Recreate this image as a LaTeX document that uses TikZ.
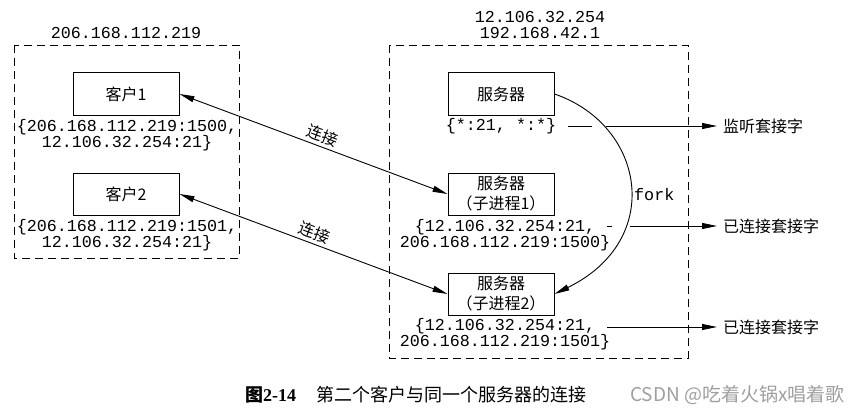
\documentclass[tikz,border=0pt]{standalone}
\usepackage{fontspec}
\setmainfont{Liberation Serif}
\setmonofont{Liberation Mono}
\newfontfamily\cjk{Noto Sans CJK SC}
\usetikzlibrary{arrows.meta}
\tikzset{
  frame/.style={draw, dash pattern=on 8pt off 5pt, line width=0.8pt},
  proc/.style={draw, line width=1pt, minimum width=106pt, minimum height=42pt,
    inner sep=0pt, align=center, font=\cjk\fontsize{16}{20}\selectfont},
  addr/.style={align=center, inner sep=0pt, font=\ttfamily\fontsize{16.7}{16}\selectfont},
  tag/.style={anchor=west, inner xsep=6pt, inner ysep=0pt, font=\cjk\fontsize{16}{19}\selectfont},
  tip/.style={-{Triangle[length=15pt,width=6pt]}, line width=0.9pt},
  conn/.style={{Triangle[length=15pt,width=6pt]}-{Triangle[length=15pt,width=6pt]}, line width=0.9pt},
  lbl/.style={above=2pt, sloped, inner sep=1pt, font=\cjk\fontsize{16}{19}\selectfont},
}
\begin{document}
\begin{tikzpicture}[x=1pt,y=-1pt]
\useasboundingbox (0,0) rectangle (866,417);

\draw[frame] (14,45) rectangle (239,258);
\draw[frame] (389,45) rectangle (688,358);
\node[addr] (h1) at (126,33) {206.168.112.219};
\node[addr] (h2) at (540,25) {12.106.32.254\\192.168.42.1};

\node[proc] (c1) at (126,94) {客户1};
\node[addr] (a1) at (127,135) {\{206.168.112.219:1500,\\12.106.32.254:21\}};
\node[proc] (c2) at (126,194) {客户2};
\node[addr] (a2) at (127,235) {\{206.168.112.219:1501,\\12.106.32.254:21\}};

\node[proc] (s0) at (501,94) {服务器};
\node[addr] (b0) at (501,126) {\{*:21, *:*\}};
\node[proc] (s1) at (501,194) {服务器\\（子进程1）};
\node[addr] (b1) at (505,235) {\{12.106.32.254:21,\\206.168.112.219:1500\}};
\node[proc] (s2) at (501,294) {服务器\\（子进程2）};
\node[addr] (b2) at (505,334) {\{12.106.32.254:21,\\206.168.112.219:1501\}};

\draw[conn] (c1.east) -- node[lbl, pos=0.52] (k1) {连接} (s1.west);
\draw[conn] (c2.east) -- node[lbl, pos=0.49] (k2) {连接} (s2.west);

\draw[tip] (s0.east) .. controls (645,125) and (665,240) .. (s2.east);
\node[addr, anchor=west] (fk) at (634,195) {fork};

\node[tag] (t0) at (717,126) {监听套接字};
\node[tag] (t1) at (717,226) {已连接套接字};
\node[tag] (t2) at (717,327) {已连接套接字};
\coordinate (p0) at (568,126);
\coordinate (p1) at (607,226);
\coordinate (p2) at (607,327);
\draw[tip, dash pattern=on 24pt off 14pt on 300pt] (p0) -- (t0.west);
\draw[tip, dash pattern=on 5pt off 18pt on 300pt] (p1) -- (t1.west);
\draw[tip] (p2) -- (t2.west);

\node[anchor=west, inner sep=0pt, font=\fontsize{18}{20}\selectfont] (cap) at (245,395)
  {{\cjk\bfseries 图}\textbf{2-14}\hspace{20pt}{\cjk 第二个客户与同一个服务器的连接}};
\node[anchor=west, inner sep=0pt, text=gray!75, font=\cjk\fontsize{19}{20}\selectfont] (wm) at (630,395)
  {CSDN @吃着火锅x唱着歌};
\end{tikzpicture}
\end{document}
